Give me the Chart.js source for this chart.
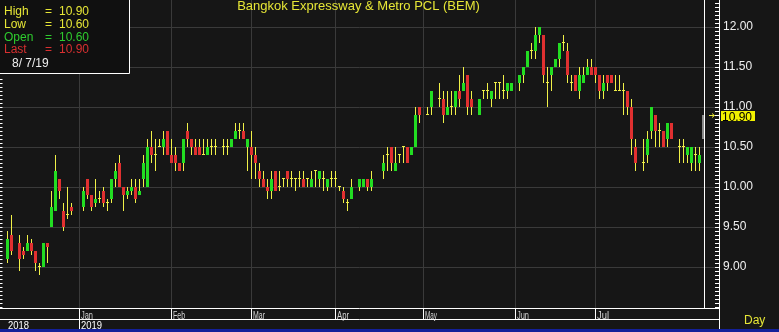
<!DOCTYPE html>
<html>
<head>
<meta charset="utf-8">
<script src="https://cdn.jsdelivr.net/npm/chart.js@4.4.1/dist/chart.umd.min.js"></script>
<style>
  html, body { margin: 0; padding: 0; background: #161616; }
  canvas { display: block; }
</style>
</head>
<body>
<canvas id="bemChart" width="779" height="332"></canvas>
<script>
// first weekday slot shown; every weekday gets a slot, holidays stay empty (null)
const firstDay = "2018-12-06";

// daily OHLC, one entry per weekday slot
const opens = [
  9.10, 9.40, null, 9.30, 9.20, 9.20, 9.30, 9.20, 9.00, 9.00, 9.30, 9.50, 9.70, 10.10, 9.70, 9.65, 9.75, null, null,
  9.75, 10.10, 9.90, 9.80, 9.85, 9.95, 9.80, 9.85, 10.10, 10.30, 10.00, 9.90, 9.95, 10.00, 9.90, 10.10, 10.00, 10.50, 10.40, 10.50, 10.50, 10.70,
  10.40, 10.40, 10.30, 10.30, 10.70, 10.60, 10.50, 10.50, 10.40, 10.40, 10.50, 10.50, null, 10.50, 10.50, 10.50, 10.60, 10.70, 10.70, 10.50,
  10.50, 10.40, 10.20, 10.10, 10.00, 9.95, 10.20, 10.00, 10.10, 10.20, 10.10, 10.10, 10.10, 10.10, 10.10, 10.00, 10.20, 10.10, 10.10, 10.00, 10.10,
  10.10, 10.00, 9.95, 9.80, 9.85, null, 10.00, 10.00, 10.10, 10.00, null, null, 10.20, 10.40, 10.50, 10.20, 10.40, 10.50, 10.50, 10.40, 10.50, 11.00,
  null, 10.90, 11.00, null, 11.10, 11.10, 10.90, 11.00, 11.00, 11.20, 11.20, 11.40, 11.10, null, 10.90, 11.20, 11.20, 11.10, 11.30, 11.30, 11.20, 11.20, 11.20,
  null, 11.30, 11.40, 11.50, 11.70, 11.70, 11.90, 11.90, 11.30, 11.40, 11.50, 11.60, 11.80, 11.70, 11.30, 11.40, 11.20, 11.30, 11.40, 11.50,
  11.50, 11.40, 11.20, 11.40, 11.40, 11.20, 11.20, 11.20, 11.20, 11.00, 10.50, null, 10.30, 10.40, 10.70, 10.90, 10.70, 10.70, 10.60, 10.80, null,
  10.50, 10.50, 10.40, 10.30, 10.40, 10.30, 10.60
];
const highs = [
  9.45, 9.65, null, 9.40, 9.25, 9.40, 9.35, 9.20, 9.05, 9.30, 9.30, 9.95, 10.40, 10.10, 9.80, 10.00, 9.80, null, null,
  10.00, 10.10, 9.90, 10.10, 9.95, 10.00, 9.85, 10.10, 10.30, 10.40, 10.00, 10.00, 10.10, 10.10, 10.10, 10.40, 10.60, 10.70, 10.60, 10.60, 10.70, 10.70,
  10.60, 10.50, 10.30, 10.60, 10.80, 10.60, 10.60, 10.60, 10.60, 10.60, 10.60, 10.60, null, 10.60, 10.60, 10.60, 10.80, 10.80, 10.80, 10.60,
  10.70, 10.50, 10.30, 10.20, 10.10, 10.20, 10.20, 10.20, 10.10, 10.20, 10.20, 10.10, 10.20, 10.20, 10.10, 10.20, 10.20, 10.20, 10.20, 10.10, 10.20,
  10.20, 10.00, 10.00, 9.85, 10.10, null, 10.10, 10.10, 10.10, 10.20, null, null, 10.40, 10.50, 10.50, 10.50, 10.40, 10.50, 10.50, 10.50, 11.00, 11.00,
  null, 11.00, 11.20, null, 11.30, 11.20, 11.20, 11.20, 11.20, 11.40, 11.50, 11.40, 11.20, null, 11.10, 11.20, 11.30, 11.20, 11.30, 11.30, 11.40, 11.30, 11.30,
  null, 11.40, 11.50, 11.70, 11.80, 12.00, 12.00, 11.90, 11.50, 11.50, 11.60, 11.80, 11.90, 11.80, 11.40, 11.40, 11.50, 11.50, 11.60, 11.60,
  11.50, 11.40, 11.40, 11.40, 11.40, 11.40, 11.40, 11.30, 11.20, 11.10, 10.60, null, 10.60, 10.70, 11.00, 10.90, 10.80, 10.70, 10.80, 10.80, null,
  10.60, 10.60, 10.50, 10.50, 10.50, 10.50, 10.90
];
const lows = [
  9.05, 9.15, null, 8.95, 9.10, 9.20, 9.15, 8.95, 8.90, 9.00, 9.05, 9.50, 9.70, 9.85, 9.45, 9.60, 9.65, null, null,
  9.70, 9.85, 9.70, 9.75, 9.80, 9.75, 9.70, 9.80, 10.00, 10.00, 9.70, 9.85, 9.90, 9.80, 9.90, 10.00, 10.00, 10.30, 10.20, 10.50, 10.40, 10.40,
  10.30, 10.20, 10.20, 10.20, 10.50, 10.40, 10.40, 10.40, 10.40, 10.40, 10.40, 10.40, null, 10.40, 10.40, 10.50, 10.60, 10.60, 10.60, 10.20,
  10.10, 10.10, 10.00, 10.00, 9.85, 9.85, 9.95, 9.95, 10.00, 10.00, 10.00, 9.95, 10.00, 10.00, 10.00, 10.00, 10.00, 10.00, 9.95, 9.95, 10.00,
  10.00, 9.95, 9.80, 9.70, 9.85, null, 9.95, 10.00, 9.95, 9.95, null, null, 10.10, 10.20, 10.20, 10.20, 10.30, 10.30, 10.30, 10.40, 10.50, 10.80,
  null, 10.90, 10.90, null, 11.00, 10.80, 10.90, 10.90, 10.90, 11.00, 11.20, 10.90, 10.90, null, 10.90, 11.10, 11.10, 11.00, 11.10, 11.10, 11.10, 11.10, 11.20,
  null, 11.20, 11.30, 11.50, 11.60, 11.60, 11.80, 11.30, 11.00, 11.20, 11.50, 11.50, 11.70, 11.30, 11.20, 11.20, 11.10, 11.30, 11.40, 11.40,
  11.30, 11.10, 11.10, 11.20, 11.30, 11.20, 11.20, 10.90, 10.90, 10.40, 10.20, null, 10.20, 10.30, 10.60, 10.50, 10.50, 10.50, 10.50, 10.60, null,
  10.30, 10.30, 10.30, 10.20, 10.20, 10.20, 10.60
];
const closes = [
  9.35, 9.20, null, 9.10, 9.15, 9.30, 9.20, 9.05, 9.00, 9.30, 9.25, 9.75, 10.20, 9.95, 9.50, 9.65, 9.70, null, null,
  9.95, 9.90, 9.75, 9.85, 9.85, 9.80, 9.80, 10.10, 10.20, 10.00, 9.90, 9.95, 10.00, 9.85, 9.95, 10.30, 10.50, 10.40, 10.40, 10.50, 10.60, 10.40,
  10.30, 10.30, 10.20, 10.60, 10.60, 10.50, 10.40, 10.40, 10.40, 10.50, 10.50, 10.50, null, 10.50, 10.50, 10.60, 10.70, 10.70, 10.60, 10.60,
  10.40, 10.30, 10.10, 10.00, 9.95, 10.10, 9.95, 10.00, 10.10, 10.10, 10.10, 10.10, 10.10, 10.00, 10.10, 10.10, 10.20, 10.20, 10.10, 10.10, 10.10,
  10.10, 10.00, 9.85, 9.80, 10.00, null, 10.10, 10.10, 10.00, 10.10, null, null, 10.30, 10.40, 10.30, 10.30, 10.40, 10.50, 10.30, 10.50, 10.90, 10.90,
  null, 10.90, 11.20, null, 11.10, 10.90, 11.00, 11.00, 11.20, 11.10, 11.30, 11.00, 11.00, null, 11.10, 11.20, 11.20, 11.20, 11.30, 11.30, 11.20, 11.30, 11.30,
  null, 11.40, 11.50, 11.70, 11.70, 11.90, 12.00, 11.40, 11.30, 11.50, 11.60, 11.80, 11.80, 11.40, 11.30, 11.20, 11.40, 11.40, 11.50, 11.40,
  11.40, 11.20, 11.30, 11.30, 11.30, 11.20, 11.20, 11.20, 11.00, 10.60, 10.30, null, 10.30, 10.60, 11.00, 10.70, 10.70, 10.50, 10.80, 10.60, null,
  10.50, 10.50, 10.50, 10.50, 10.40, 10.40, 10.90
];

const monthLabels = ["Jan", "Feb", "Mar", "Apr", "May", "Jun", "Jul"];
const yearLabels = ["2018", "2019"];
const priceTicks = [9.0, 9.5, 10.0, 10.5, 11.0, 11.5, 12.0];
const chartTitle = "Bangkok Expressway & Metro PCL (BEM)";
const periodLabel = "Day";

const MONTHS = ["Jan", "Feb", "Mar", "Apr", "May", "Jun", "Jul", "Aug", "Sep", "Oct", "Nov", "Dec"];
const FONT = "'Liberation Sans', Arial, sans-serif";
const BG = "#161616";
const GRID = "#3a3a3a";
const YELLOW = "#e6e636";
const UP = "#22dd22";
const DOWN = "#e03030";
const WICK = "#f0f048";

// weekday calendar for the slots
const days = [];
const cur = new Date(firstDay + "T00:00:00Z");
while (days.length < opens.length) {
  const wd = cur.getUTCDay();
  if (wd !== 0 && wd !== 6) days.push(new Date(cur));
  cur.setUTCDate(cur.getUTCDate() + 1);
}
const last = opens.length - 1;

const wickData = [];
const bodyData = [];
const wickColors = [];
const bodyColors = [];
opens.forEach((o, i) => {
  if (o === null) return;
  const c = closes[i];
  wickData.push({ x: i, y: [lows[i], highs[i]] });
  bodyData.push({ x: i, y: [o, c] });
  if (i === last) {
    wickColors.push("#8a8a8a");
    bodyColors.push("#8a8a8a");
  } else {
    wickColors.push(WICK);
    bodyColors.push(c > o ? UP : c < o ? DOWN : WICK);
  }
});

// month starts and year starts on the slot axis
const monthStarts = [];
const yearStarts = [];
days.forEach((d, i) => {
  if (i === 0) return;
  const p = days[i - 1];
  if (d.getUTCMonth() !== p.getUTCMonth()) {
    const name = MONTHS[d.getUTCMonth()];
    if (monthLabels.includes(name)) monthStarts.push({ i, name });
  }
  if (d.getUTCFullYear() !== p.getUTCFullYear()) yearStarts.push(i);
});

const decor = {
  id: "decor",
  beforeDraw(chart) {
    const ctx = chart.ctx;
    ctx.save();
    ctx.fillStyle = BG;
    ctx.fillRect(0, 0, chart.width, chart.height);
    ctx.restore();
  },
  beforeDatasetsDraw(chart) {
    const { ctx, chartArea, scales } = chart;
    ctx.save();
    ctx.strokeStyle = GRID;
    ctx.lineWidth = 1;
    monthStarts.forEach(m => {
      const x = Math.round(scales.x.getPixelForValue(m.i)) - 0.5;
      ctx.beginPath();
      ctx.moveTo(x, chartArea.top);
      ctx.lineTo(x, chartArea.bottom);
      ctx.stroke();
    });
    ctx.restore();
  },
  afterDatasetsDraw(chart) {
    const { ctx, chartArea, scales } = chart;
    // cursor on the last bar
    const cx = Math.round(scales.x.getPixelForValue(last)) + 0.5;
    ctx.save();
    ctx.strokeStyle = "#ffffff";
    ctx.lineWidth = 1;
    ctx.beginPath();
    ctx.moveTo(cx, chartArea.top);
    ctx.lineTo(cx, chartArea.bottom);
    ctx.stroke();
    ctx.restore();
  },
  afterDraw(chart) {
    const { ctx, chartArea, scales } = chart;
    const x = scales.x, y = scales.y;
    const R = chartArea.right, B = chartArea.bottom;
    ctx.save();
    ctx.lineWidth = 1;
    ctx.strokeStyle = "#ffffff";

    // small price ticks on both edges
    for (let v = 8.5; v <= 12.34; v += 0.05) {
      const py = Math.round(y.getPixelForValue(v)) + 0.5;
      if (py < chartArea.top || py > B) continue;
      ctx.beginPath();
      ctx.moveTo(R - 4, py);
      ctx.lineTo(R, py);
      if (py > 76) {
        ctx.moveTo(0, py);
        ctx.lineTo(2.5, py);
      }
      ctx.stroke();
    }

    // right border of plot
    ctx.beginPath();
    ctx.moveTo(R + 0.5, 0);
    ctx.lineTo(R + 0.5, chart.height - 3);
    ctx.stroke();

    // date rows under the plot
    ctx.fillStyle = "#d4d4d4";
    ctx.font = "10px " + FONT;
    ctx.textBaseline = "alphabetic";
    ctx.textAlign = "left";
    monthStarts.forEach(m => {
      const mx = Math.round(x.getPixelForValue(m.i)) - 0.5;
      ctx.fillText(m.name, mx + 1.5, 318.5, 12);
    });
    ctx.fillStyle = "#ffffff";
    ctx.fillText(yearLabels[0], 8, 328.5, 21);
    yearStarts.forEach((i, k) => {
      const mx = Math.round(x.getPixelForValue(i)) - 0.5;
      ctx.fillText(yearLabels[k + 1], mx + 1.5, 328.5, 21);
    });

    ctx.beginPath();
    ctx.moveTo(0, B + 0.5);
    ctx.lineTo(R, B + 0.5);
    ctx.moveTo(0, 319.5);
    ctx.lineTo(R, 319.5);
    monthStarts.forEach(m => {
      const mx = Math.round(x.getPixelForValue(m.i)) - 0.5;
      ctx.moveTo(mx, B);
      ctx.lineTo(mx, 319.5);
    });
    yearStarts.forEach(i => {
      const mx = Math.round(x.getPixelForValue(i)) - 0.5;
      ctx.moveTo(mx, 319.5);
      ctx.lineTo(mx, chart.height - 3);
    });
    ctx.stroke();

    // bottom strip
    ctx.fillStyle = "#13209a";
    ctx.fillRect(0, chart.height - 3, chart.width, 3);

    // period label
    ctx.fillStyle = YELLOW;
    ctx.font = "12px " + FONT;
    ctx.fillText(periodLabel, 744, 323.5);

    // title
    ctx.font = "13px " + FONT;
    ctx.textAlign = "center";
    ctx.fillText(chartTitle, 358.5, 9.5);
    ctx.textAlign = "left";

    // last price tag with arrow
    const lastClose = closes[last];
    const ty = Math.round(y.getPixelForValue(lastClose));
    ctx.fillStyle = "#f2f200";
    ctx.fillRect(R + 2, ty - 4, 34, 10);
    ctx.fillStyle = "#000000";
    ctx.font = "12px " + FONT;
    ctx.fillText(lastClose.toFixed(2), R + 3, ty + 5.5);
    ctx.strokeStyle = YELLOW;
    ctx.beginPath();
    ctx.moveTo(R - 10, ty + 0.5);
    ctx.lineTo(R - 4.5, ty + 0.5);
    ctx.moveTo(R - 7, ty - 1.5);
    ctx.lineTo(R - 4.5, ty + 0.5);
    ctx.lineTo(R - 7, ty + 2.5);
    ctx.stroke();

    // info box for the last bar
    ctx.fillStyle = "#101010";
    ctx.fillRect(0, 0, 130, 73);
    ctx.strokeStyle = "#ffffff";
    ctx.beginPath();
    ctx.moveTo(129.5, 0);
    ctx.lineTo(129.5, 73.5);
    ctx.lineTo(0, 73.5);
    ctx.stroke();
    const rows = [
      ["High", highs[last], YELLOW],
      ["Low", lows[last], YELLOW],
      ["Open", opens[last], "#2ecc2e"],
      ["Last", closes[last], "#d83030"]
    ];
    ctx.font = "12px " + FONT;
    rows.forEach((r, k) => {
      const by = 15 + k * 12.8;
      ctx.fillStyle = r[2];
      ctx.fillText(r[0], 4, by);
      ctx.fillText("=", 45, by);
      ctx.fillText(r[1].toFixed(2), 59, by);
    });
    const ld = days[last];
    const dateText = (ld.getUTCMonth() + 1) + "/" + String(ld.getUTCDate()).padStart(2, " ") + "/" +
      String(ld.getUTCFullYear()).slice(2);
    ctx.fillStyle = "#eeeeee";
    ctx.fillText(dateText, 12, 66.5);
    ctx.restore();
  }
};

new Chart(document.getElementById("bemChart"), {
  type: "bar",
  data: {
    datasets: [
      {
        label: "range",
        data: wickData,
        backgroundColor: wickColors,
        barThickness: 1,
        grouped: false,
        inflateAmount: 0,
        borderWidth: 0,
        order: 2
      },
      {
        label: "body",
        data: bodyData,
        backgroundColor: bodyColors,
        barThickness: 3,
        minBarLength: 1,
        grouped: false,
        inflateAmount: 0,
        borderWidth: 0,
        order: 1
      }
    ]
  },
  options: {
    responsive: false,
    animation: false,
    layout: { padding: { left: 0, top: 0, right: 0, bottom: 24 } },
    plugins: {
      legend: { display: false },
      tooltip: { enabled: false }
    },
    scales: {
      x: {
        type: "linear",
        display: false,
        offset: false,
        min: -1.875,
        max: 177.875
      },
      y: {
        position: "right",
        min: 8.4875,
        max: 12.3375,
        afterBuildTicks: (s) => {
          s.ticks = priceTicks.map(v => ({ value: v }));
        },
        afterFit: (s) => {
          s.width = 60;
          s.paddingTop = 0;
          s.paddingBottom = 0;
        },
        ticks: {
          padding: 4,
          color: "#f0f0f0",
          font: { family: FONT, size: 12 },
          callback: (v) => Number(v).toFixed(2)
        },
        grid: { color: GRID, lineWidth: 1, drawTicks: false },
        border: { display: false }
      }
    }
  },
  plugins: [decor]
});
</script>
</body>
</html>
